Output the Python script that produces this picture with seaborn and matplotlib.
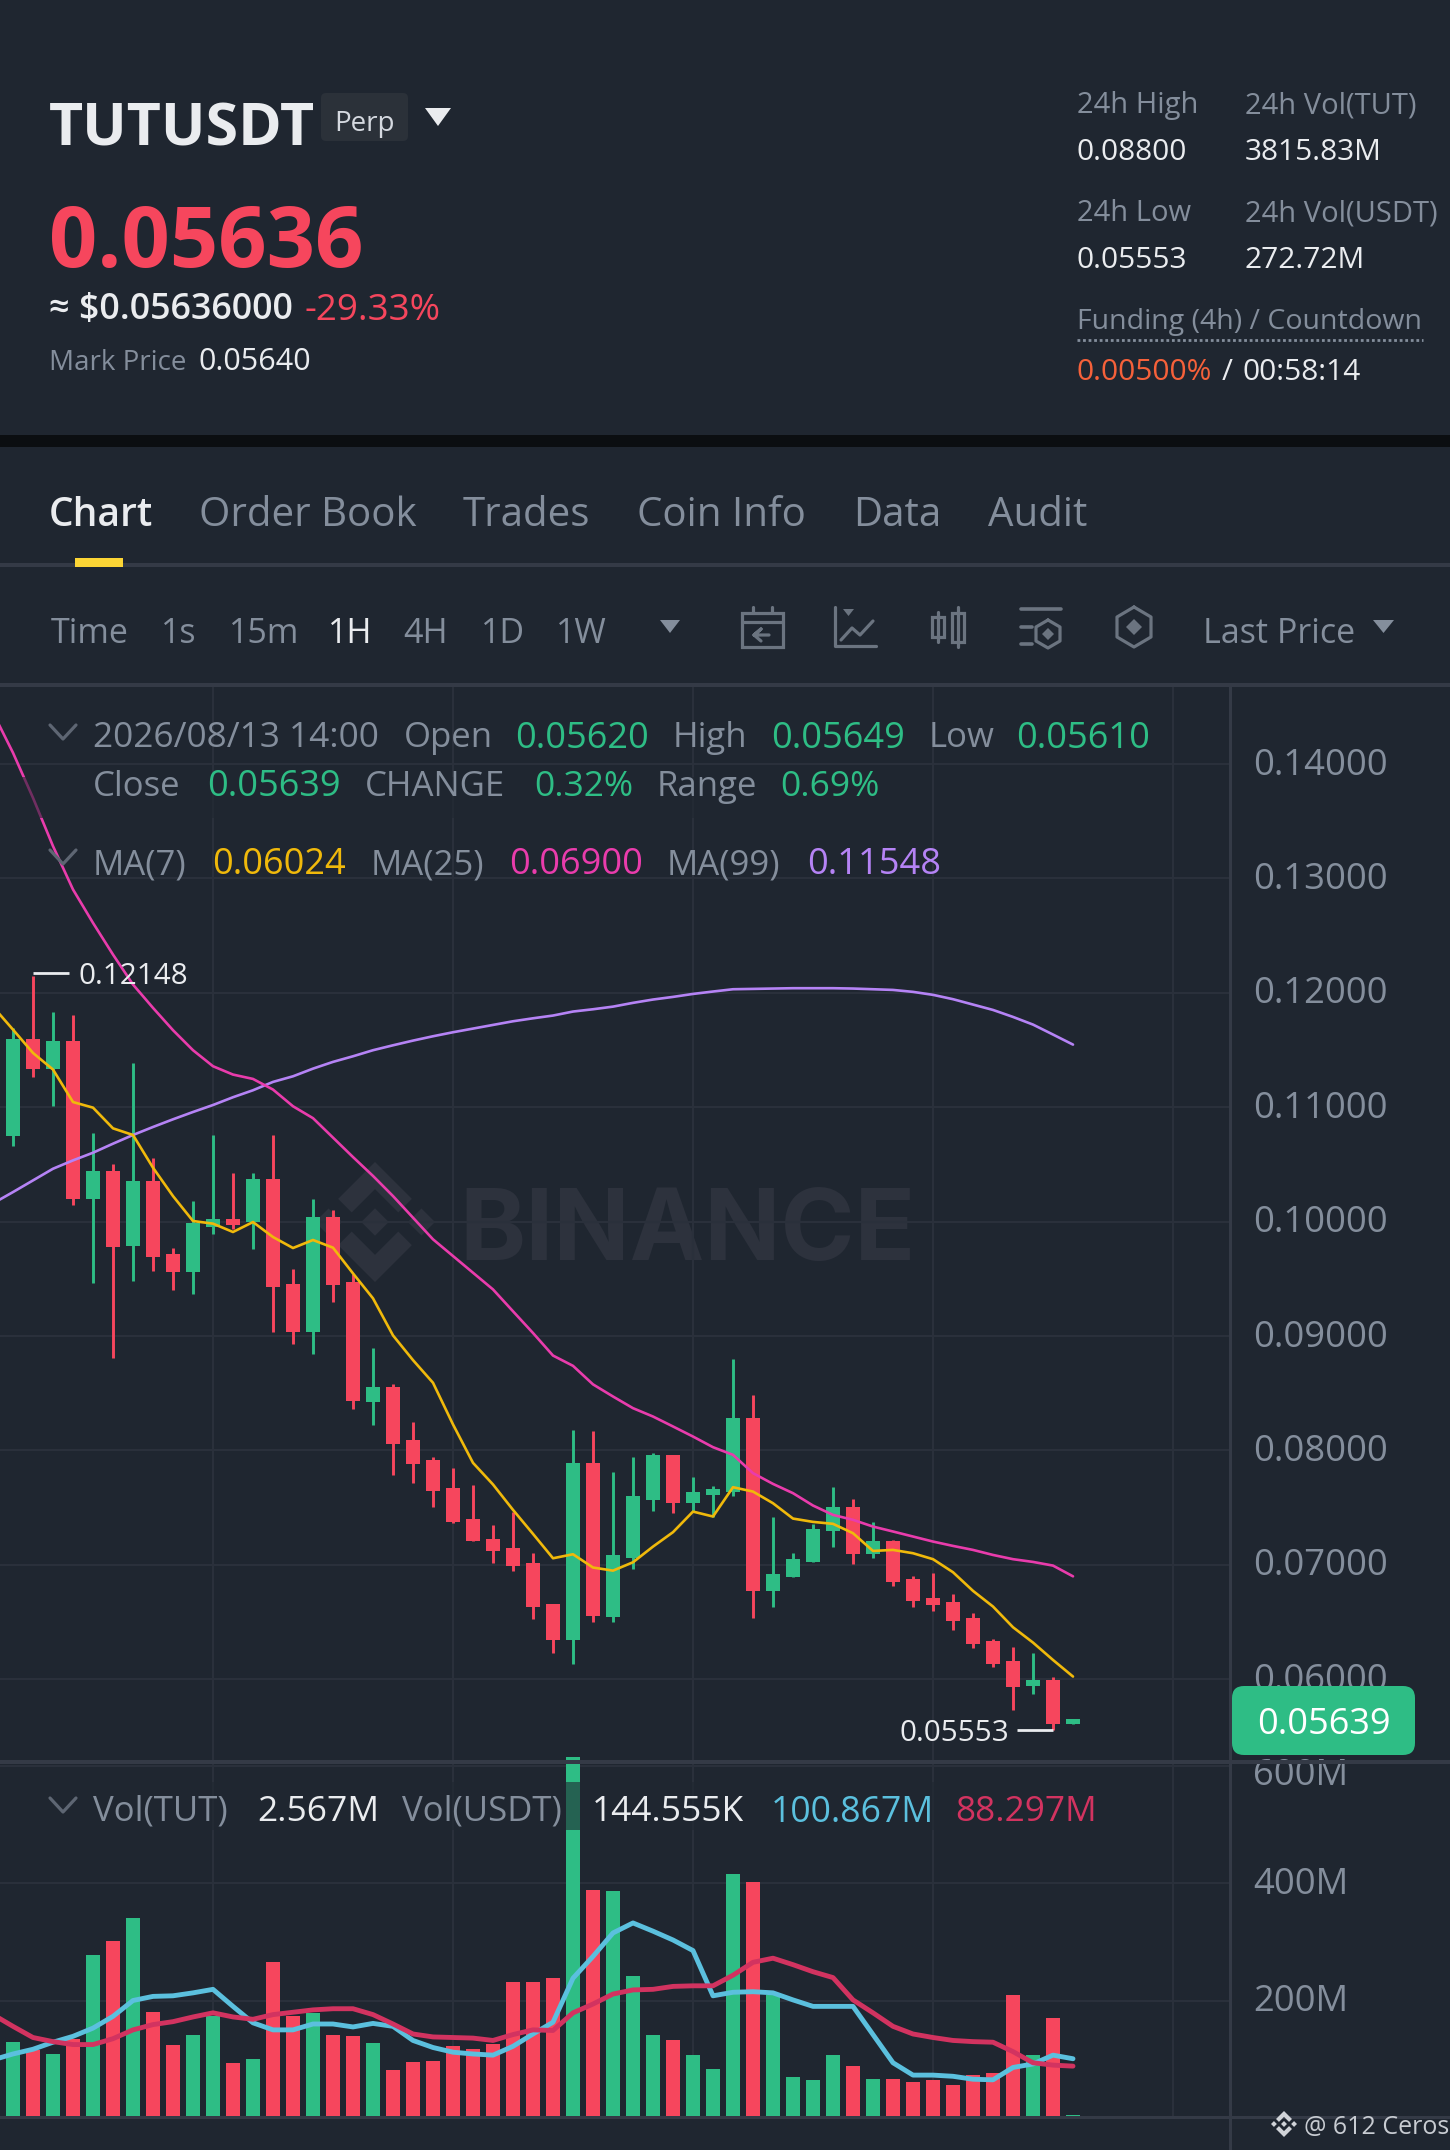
import numpy as np
import pandas as pd
import seaborn as sns
import matplotlib
matplotlib.use('Agg')
import matplotlib.pyplot as plt
from matplotlib.patches import FancyBboxPatch, Polygon, Rectangle
from matplotlib.transforms import ScaledTranslation

# Candles
opens = [.10752, .11595, .11338, .11577, .10195, .10440, .09784, .10353, .09714, .09563,
         .09953, .10026, .10000, .10376, .09455, .09035, .10044, .09472, .08426, .08554,
         .08088, .07913, .07668, .07403, .07229, .07149, .07015, .06659, .06341, .07892,
         .06548, .07058, .07568, .07965, .07539, .07612, .07641, .08288, .06773, .06892,
         .07023, .07292, .07507, .07096, .07210, .06878, .06714, .06679, .06534, .06338,
         .06160, .05939, .05991, .05605]
highs = [.11694, .12148, .11837, .11811, .10778, .10501, .11388, .10560, .09773, .10178,
         .10755, .10429, .10429, .10755, .09583, .10195, .10099, .09539, .08892, .08583,
         .08248, .07945, .07849, .07697, .07349, .07466, .07102, .06659, .08175, .08169,
         .07816, .07942, .07977, .07965, .07767, .07691, .08800, .08484, .07417, .07108,
         .07359, .07679, .07574, .07373, .07219, .06904, .06927, .06746, .06577, .06350,
         .06286, .06227, .06023, .05650]
lows = [.10659, .11263, .11009, .10143, .09467, .08811, .09481, .09569, .09402, .09365,
        .09889, .09933, .09758, .09038, .08927, .08840, .09297, .08359, .08219, .07782,
        .07712, .07508, .07368, .07207, .07014, .06950, .06528, .06233, .06131, .06504,
        .06504, .06968, .07475, .07458, .07463, .07423, .07603, .06534, .06636, .06892,
        .07023, .07160, .07009, .07061, .06816, .06636, .06601, .06432, .06277, .06111,
        .05732, .05872, .05553, .05605]
closes = [.11598, .11338, .11577, .10195, .10440, .09778, .10353, .09694, .09560, .09985,
          .10026, .09974, .10376, .09426, .09035, .10044, .09449, .08429, .08557, .08059,
          .07884, .07645, .07374, .07210, .07121, .06994, .06636, .06341, .07892, .06554,
          .07085, .07598, .07965, .07545, .07638, .07665, .08288, .06773, .06918, .07050,
          .07318, .07507, .07096, .07210, .06851, .06685, .06650, .06510, .06309, .06134,
          .05933, .05991, .05610, .05650]
volumes = [129, 116, 109, 135, 277, 302, 340, 180, 125, 141, 173, 93, 100, 265, 173, 179, 142, 140,
           127, 81, 95, 97, 122, 117, 126, 231, 231, 239, 614, 388, 387, 241, 141, 133, 107, 84,
           416, 401, 210, 70, 64, 107, 88, 67, 66, 62, 65, 56, 73, 76, 210, 108, 171, 5]

# Moving averages, the first value of each sits one candle off the left edge
ma7 = [.1188, .11679, .11475, .11330, .11046, .10997, .10816, .10758, .10472, .10224, .10006,
       .09983, .09910, .09997, .09866, .09770, .09840, .09773, .09548, .09330, .09006,
       .08790, .08592, .08228, .07892, .07703, .07481, .07271, .07058, .07093, .06977,
       .06950, .07023, .07160, .07286, .07466, .07423, .07679, .07641, .07539, .07405,
       .07376, .07359, .07277, .07122, .07131, .07102, .07050, .06936, .06773, .06636,
       .06455, .06321, .06169, .06024]
ma25 = [.14449, .14099, .13705, .13283, .12904, .12612, .12335, .12073, .11869, .11674, .11499,
        .11359, .11286, .11248, .11155, .11009, .10905, .10735, .10565, .10400, .10224,
        .10035, .09846, .09700, .09554, .09408, .09217, .09027, .08830, .08740, .08578,
        .08472, .08370, .08297, .08210, .08122, .08029, .07962, .07802, .07708, .07627,
        .07519, .07437, .07394, .07335, .07292, .07248, .07204, .07166, .07131, .07087,
        .07050, .07026, .06994, .06900]
ma99 = [.10160, .10259, .10361, .10463, .10536, .10603, .10682, .10758, .10828, .10895, .10959,
        .11020, .11088, .11149, .11222, .11271, .11338, .11397, .11446, .11499, .11542,
        .11583, .11621, .11656, .11688, .11720, .11752, .11778, .11802, .11837, .11857,
        .11880, .11913, .11942, .11965, .11991, .12012, .12032, .12035, .12038, .12041,
        .12041, .12041, .12038, .12032, .12026, .12009, .11983, .11945, .11898, .11851,
        .11790, .11723, .11636, .11548]
vol_ma_blue = [99, 109, 117, 129, 139, 153, 173, 200, 207, 208, 213, 219, 190, 162, 150, 150, 160,
               160, 155, 161, 156, 132, 120, 112, 109, 107, 122, 143, 163, 238, 275, 315, 332,
               318, 303, 285, 208, 214, 215, 213, 201, 190, 190, 190, 142, 94, 73, 73, 71, 66,
               65, 86, 92, 107, 100.867]
vol_ma_red = [176, 156, 137, 130, 125, 125, 135, 150, 159, 164, 172, 179, 172, 168, 176, 180, 184,
              186, 186, 176, 160, 143, 138, 137, 136, 132, 142, 150, 149, 179, 194, 211, 218,
              219, 224, 225, 225, 243, 265, 272, 261, 249, 239, 201, 179, 156, 143, 137, 132,
              130, 129, 113, 94, 90, 88.297]

price_ticks = [.14, .13, .12, .11, .10, .09, .08, .07, .06]
vol_ticks = [200, 400, 600]
vol_tick_labels = ['200M', '400M', '600M']
grid_candles = [10, 22, 34, 46, 58]

BG = '#1F2630'
GRID = '#2A303B'
SEP = '#343A46'
GREEN = '#2EBD85'
RED = '#F6465D'
GRAY = '#848E9C'
WHITE = '#EAECEF'
YELLOW = '#F0B90B'
MA25_COL = '#E93CAC'
MA99_COL = '#B583F5'
BLUE = '#5BC0DE'
CRIMSON = '#D23360'
ICON = '#6B7480'

sns.set_theme(style='dark')
plt.rcParams['font.family'] = ['Open Sans', 'DejaVu Sans']

W, H = 1450, 2150
fig = plt.figure(figsize=(W / 100, H / 100), dpi=100, facecolor=BG)


def pane(left, top, right, bottom, z):
    ax = fig.add_axes([left / W, 1 - bottom / H, (right - left) / W, (bottom - top) / H])
    ax.set_zorder(z)
    ax.patch.set_visible(False)
    return ax


def overlay(z):
    ax = pane(0, 0, W, H, z)
    ax.set_xlim(0, W)
    ax.set_ylim(H, 0)
    ax.axis('off')
    return ax


back = overlay(0)
ax_price = pane(0, 687, 1230, 1762, 1)
ax_vol = pane(0, 1750, 1230, 2118, 2)
top = overlay(5)

idx = np.arange(len(opens))
ma_idx = np.arange(-1, len(opens))
df = pd.DataFrame({'i': idx, 'open': opens, 'high': highs, 'low': lows, 'close': closes, 'vol': volumes})
df['up'] = df['close'] >= df['open']
df['lo'] = df[['open', 'close']].min(axis=1)
df['size'] = (df['close'] - df['open']).abs()

# Price pane
for up, col in [(True, GREEN), (False, RED)]:
    part = df[df['up'] == up]
    ax_price.vlines(part['i'], part['low'], part['high'], color=col, lw=2.1, zorder=3)
    sns.barplot(x=part['i'].values, y=part['size'].values, bottom=part['lo'].values, native_scale=True,
                width=0.7, color=col, saturation=1, errorbar=None, linewidth=0, ax=ax_price, zorder=3)

sns.lineplot(x=ma_idx, y=ma99, color=MA99_COL, lw=1.9, ax=ax_price, zorder=4)
sns.lineplot(x=ma_idx, y=ma25, color=MA25_COL, lw=1.9, ax=ax_price, zorder=4)
sns.lineplot(x=ma_idx, y=ma7, color=YELLOW, lw=1.9, ax=ax_price, zorder=4)

# 0 at x = 13 px and one candle every 20 px
ax_price.set_xlim(-13 / 20, (1230 - 13) / 20)
ax_price.set_ylim(.06 + (1679.3 - 1762) / 11440, .06 + (1679.3 - 687) / 11440)
ax_price.yaxis.tick_right()
ax_price.set_yticks(price_ticks)
ax_price.set_yticklabels([f'{p:.5f}' for p in price_ticks])

# The high marker sits a little above its wick
ax_price.hlines(max(highs) + .0003, 1, 2.8, color=WHITE, lw=2, zorder=5)
ax_price.text(3.25, max(highs) + .0003, '0.12148', color=WHITE, fontsize=21.3, va='center_baseline', zorder=5)
ax_price.hlines(min(lows), 50.2, 52, color=WHITE, lw=2, zorder=5)
ax_price.text(49.8, min(lows), '0.05553', color=WHITE, fontsize=21.3, ha='right', va='center_baseline', zorder=5)

# Volume pane
sns.barplot(data=df, x='i', y='vol', hue='up', palette={True: GREEN, False: RED}, native_scale=True,
            dodge=False, width=0.7, saturation=1, errorbar=None, linewidth=0, legend=False, ax=ax_vol, zorder=3)
sns.lineplot(x=ma_idx, y=vol_ma_blue, color=BLUE, lw=3.5, ax=ax_vol, zorder=4)
sns.lineplot(x=ma_idx, y=vol_ma_red, color=CRIMSON, lw=3.5, ax=ax_vol, zorder=4)
ax_vol.set_xlim(-13 / 20, (1230 - 13) / 20)
ax_vol.set_ylim(0, 368 / 0.5875)
ax_vol.yaxis.tick_right()
ax_vol.set_yticks(vol_ticks)
ax_vol.set_yticklabels(vol_tick_labels)

for ax in (ax_price, ax_vol):
    ax.set_xlabel('')
    ax.set_ylabel('')
    ax.set_xticks(grid_candles)
    ax.set_xticklabels([])
    ax.grid(True, color=GRID, lw=1.5, zorder=0)
    ax.set_axisbelow(True)
    ax.tick_params(axis='both', length=0)
    ax.tick_params(axis='y', labelsize=26.2, labelcolor=GRAY, pad=16.5, right=False, left=False)
    for s in ax.spines.values():
        s.set_visible(False)

# Nudge the axis labels to where the app puts them
for lab in ax_price.get_yticklabels():
    lab.set_transform(lab.get_transform() + ScaledTranslation(0, 3 / 100, fig.dpi_scale_trans))
for lab, dy in zip(ax_vol.get_yticklabels(), [3, 3, -6]):
    lab.set_transform(lab.get_transform() + ScaledTranslation(0, dy / 100, fig.dpi_scale_trans))


def box(ax, x0, y0, x1, y1, col, alpha=1.0):
    ax.add_patch(Rectangle((x0, y0), x1 - x0, y1 - y0, facecolor=col, edgecolor='none', alpha=alpha))


def tri(ax, pts, col):
    ax.add_patch(Polygon(pts, facecolor=col, edgecolor='none'))


def txt(x, y, s, col=GRAY, size=24, weight='normal', ha='left', ax=None, family=None):
    kw = {'family': family} if family else {}
    (ax or top).text(x, y, s, color=col, fontsize=size, fontweight=weight, ha=ha, va='center_baseline', **kw)


def logo(ax, cx, cy, r, col):
    k = r / 63.31
    chev = [(-24.58, -10.11), (0, -34.69), (24.6, -10.09), (38.91, -24.4), (0, -63.31), (-38.89, -24.41)]
    tri(ax, [(cx + k * a, cy + k * b) for a, b in chev], col)
    tri(ax, [(cx + k * a, cy - k * b) for a, b in chev], col)
    for dx, hw in [(-49, 14.3), (0, 14.5), (49, 14.3)]:
        tri(ax, [(cx + k * (dx - hw), cy), (cx + k * dx, cy - k * hw),
                 (cx + k * (dx + hw), cy), (cx + k * dx, cy + k * hw)], col)


def chevron(y):
    top.plot([50, 63, 76], [y - 7, y + 7, y - 7], color='#5E6673', lw=2.3)


def hexagon(cx, cy, rx, ry, d):
    top.plot([cx, cx + rx, cx + rx, cx, cx - rx, cx - rx, cx],
             [cy - ry, cy - ry / 2, cy + ry / 2, cy + ry, cy + ry / 2, cy - ry / 2, cy - ry], color=ICON, lw=2.3)
    tri(top, [(cx - d, cy), (cx, cy - d), (cx + d, cy), (cx, cy + d)], ICON)


# Watermark
logo(back, 375, 1222, 60, '#2D323D')
txt(459, 1224, 'BINANCE', '#2D323D', 72, 'bold', ax=back, family='Inter')

# Separators and the y axis line
box(top, 0, 1760, W, 1764, SEP)
box(top, 0, 2116, W, 2119, SEP)
box(top, 1229, 686, 1232, H, SEP)
box(top, 0, 435, W, 447, '#0B0E11')
box(top, 0, 563, W, 567, SEP)
box(top, 0, 683, W, 687, SEP)
box(top, 75, 558, 123, 567, '#FCD535')

# Legend rows dim what is under them
box(top, 0, 777, 885, 818, BG, 0.6)
box(top, 0, 1782, 1100, 1830, BG, 0.6)

# Price tag
top.add_patch(FancyBboxPatch((1244, 1698), 159, 45, boxstyle='round,pad=12,rounding_size=12', facecolor=GREEN, edgecolor='none'))
txt(1323.5, 1720, '0.05639', 'white', 26, ha='center')

# Header
txt(49, 123, 'TUTUSDT', WHITE, 42.6, 'bold')
top.add_patch(FancyBboxPatch((325, 97), 79, 40, boxstyle='round,pad=4,rounding_size=5', facecolor='#2B3139', edgecolor='none'))
txt(364.5, 120, 'Perp', '#D5D9E0', 20, ha='center')
tri(top, [(425, 108), (451, 108), (438, 126)], WHITE)
txt(49, 235, '0.05636', RED, 61, 'bold')
txt(49, 306, '≈ $0.05636000', WHITE, 25.8, 'semibold')
txt(305, 306, '-29.33%', RED, 26.5)
txt(49, 359, 'Mark Price', GRAY, 20)
txt(199, 359, '0.05640', WHITE, 22)

txt(1077, 102, '24h High', GRAY, 21)
txt(1245, 102, '24h Vol(TUT)', GRAY, 21)
txt(1077, 149, '0.08800', WHITE, 21.5)
txt(1245, 149, '3815.83M', WHITE, 21.5)
txt(1077, 210, '24h Low', GRAY, 21)
txt(1245, 210, '24h Vol(USDT)', GRAY, 21)
txt(1077, 257, '0.05553', WHITE, 21.5)
txt(1245, 257, '272.72M', WHITE, 21.5)
txt(1077, 318, 'Funding (4h) / Countdown', GRAY, 20.5)
top.plot([1077, 1423], [340, 340], color=GRAY, lw=2, ls=(0, (1, 1)))
txt(1077, 369, '0.00500%', '#F6613A', 21.5)
txt(1222, 369, '/', WHITE, 21.5)
txt(1243, 369, '00:58:14', WHITE, 21.5)

# Tabs
for x, s, col in [(49, 'Chart', WHITE), (199, 'Order Book', GRAY), (463, 'Trades', GRAY),
                  (637, 'Coin Info', GRAY), (853, 'Data', GRAY), (988, 'Audit', GRAY)]:
    txt(x, 511, s, col, 28 if s == 'Chart' else 29, 'semibold' if s == 'Chart' else 'medium')

# Toolbar
for x, s, col in [(51, 'Time', GRAY), (161, '1s', GRAY), (229, '15m', GRAY), (328, '1H', WHITE),
                  (403, '4H', GRAY), (481, '1D', GRAY), (556, '1W', GRAY)]:
    txt(x, 630, s, col, 24.5)
txt(1203, 630, 'Last Price', GRAY, 24.5)
tri(top, [(660, 620), (680, 620), (670, 633)], GRAY)
tri(top, [(1373, 620), (1394, 620), (1383.5, 633)], GRAY)

top.add_patch(Rectangle((742, 613), 41, 34, facecolor='none', edgecolor=ICON, lw=2.3))
top.plot([742, 783], [622, 622], color=ICON, lw=2.3)
top.plot([753, 753], [607, 613], color=ICON, lw=2.3)
top.plot([772, 772], [607, 613], color=ICON, lw=2.3)
top.plot([769, 754, 761, 754, 761], [635, 635, 629, 635, 641], color=ICON, lw=2.3)
top.plot([835, 835, 876], [607, 646, 646], color=ICON, lw=2.3)
tri(top, [(843, 609), (854, 609), (848.5, 616)], ICON)
top.plot([841, 852, 860, 873], [640, 628, 635, 621], color=ICON, lw=2.3)
top.add_patch(Rectangle((932, 617), 12, 20, facecolor='none', edgecolor=ICON, lw=2.3))
top.plot([938, 938], [612, 642], color=ICON, lw=2.3)
top.add_patch(Rectangle((952, 613), 12, 29, facecolor='none', edgecolor=ICON, lw=2.3))
top.plot([958, 958], [607, 647], color=ICON, lw=2.3)
top.plot([1021, 1061], [609, 609], color=ICON, lw=2.6)
top.plot([1021, 1032], [627, 627], color=ICON, lw=2.6)
top.plot([1021, 1032], [644, 644], color=ICON, lw=2.6)
hexagon(1048, 634, 12, 14, 6)
hexagon(1134, 627, 17, 20, 8)

# Chart legends
chevron(732)
for x, s, col, sz in [(93, '2026/08/13 14:00', GRAY, 25.4), (404, 'Open', GRAY, 25), (515, '0.05620', GREEN, 26),
                      (673, 'High', GRAY, 25), (771, '0.05649', GREEN, 26), (929, 'Low', GRAY, 25),
                      (1016, '0.05610', GREEN, 26)]:
    txt(x, 734, s, col, sz)
for x, s, col, sz in [(93, 'Close', GRAY, 25), (207, '0.05639', GREEN, 26), (365, 'CHANGE', GRAY, 25),
                      (534, '0.32%', GREEN, 25.5), (657, 'Range', GRAY, 25), (780, '0.69%', GREEN, 25.5)]:
    txt(x, 783, s, col, sz)
chevron(857)
for x, s, col, sz in [(93, 'MA(7)', GRAY, 25), (212, '0.06024', YELLOW, 26), (371, 'MA(25)', GRAY, 25),
                      (509, '0.06900', MA25_COL, 26), (667, 'MA(99)', GRAY, 25), (807, '0.11548', MA99_COL, 26)]:
    txt(x, 861, s, col, sz)
chevron(1805)
for x, s, col, sz in [(93, 'Vol(TUT)', GRAY, 25), (257, '2.567M', WHITE, 25.5), (402, 'Vol(USDT)', GRAY, 25),
                      (592, '144.555K', WHITE, 25.4), (771, '100.867M', BLUE, 25.6), (955, '88.297M', CRIMSON, 25.4)]:
    txt(x, 1808, s, col, sz)

# Credit in the corner
logo(top, 1284, 2124, 13, '#D0D3D8')
txt(1304, 2124, '@ 612 Ceros', '#C8CCD2', 18)

fig.savefig('out.png', dpi=100, facecolor=BG)
